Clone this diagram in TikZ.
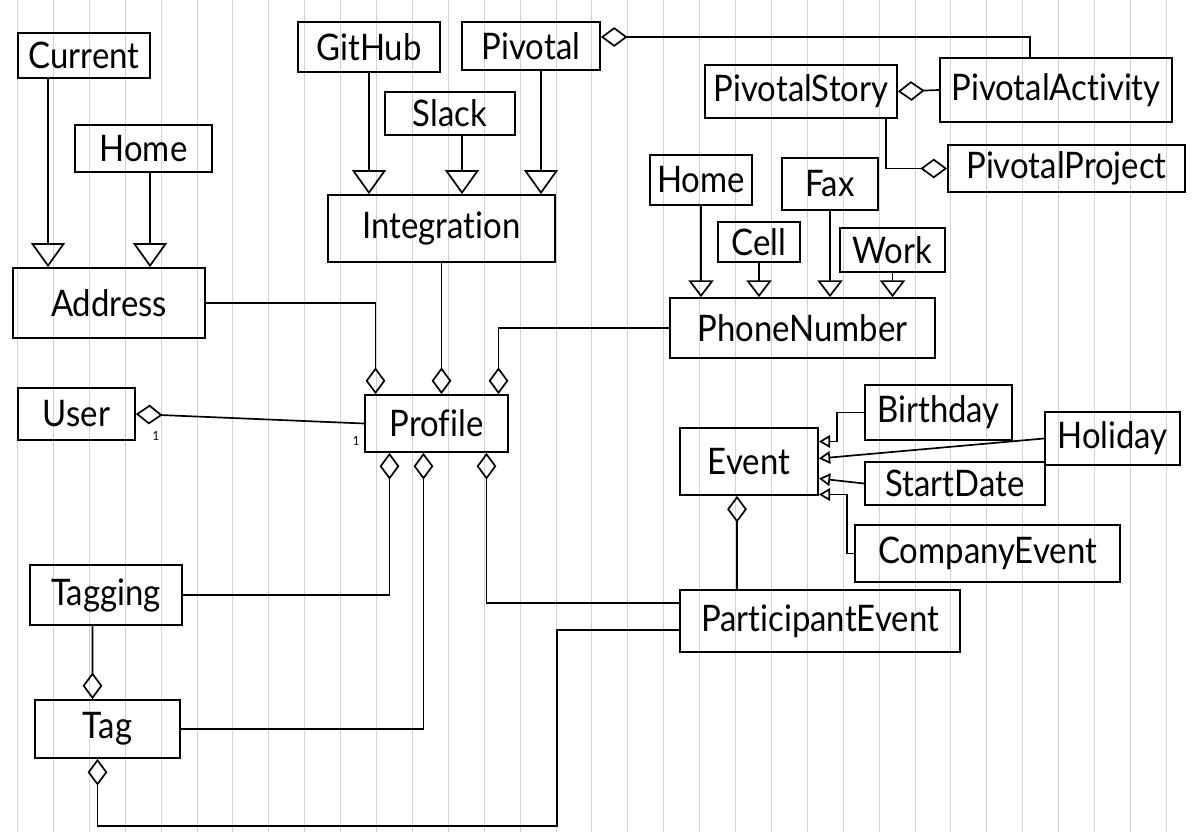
\documentclass[tikz,border=0pt]{standalone}
\usepackage{fontspec}
\newfontfamily\handfont[FakeStretch=0.9, Ligatures=NoCommon]{Lato}
\usetikzlibrary{arrows.meta,calc}
\tikzset{
  klasse/.style={rectangle, draw=black, line width=1.2pt, inner sep=0pt, align=center, font=\handfont\fontsize{26}{30}\selectfont},
  kante/.style={draw=black, line width=1.2pt},
  gen/.style={kante, -{Triangle[open, length=17pt, width=24pt]}},
  genm/.style={kante, -{Triangle[open, length=12pt, width=18pt]}},
  gens/.style={kante, -{Triangle[open, length=8pt, width=9pt]}},
  aggr/.style={kante, {Diamond[open, length=19pt, width=14pt]}-},
  mult/.style={font=\handfont\fontsize{9}{10}\selectfont, inner sep=0pt},
  papier/.style={draw=gray!35, line width=0.7pt}
}

\begin{document}
\begin{tikzpicture}[x=0.025cm, y=-0.025cm]
\fill[white] (0,0) rectangle (1200,832);
\useasboundingbox (0,0) rectangle (1200,832);
\foreach \i in {0,...,32} \draw[papier] ({17.5+35.9*\i},0) -- ({17.5+35.9*\i},832);

% address part
\node[klasse, minimum width=3.3cm, minimum height=1.125cm] (current) at (84,55.5) {Current};
\node[klasse, minimum width=3.425cm, minimum height=1.175cm] (homeA) at (143.5,148.5) {Home};
\node[klasse, minimum width=4.8cm, minimum height=1.75cm] (address) at (109,303) {Address};
\node[klasse, minimum width=2.925cm, minimum height=1.3cm] (user) at (76.5,414) {User};
\node[klasse, minimum width=3.575cm, minimum height=1.425cm] (profile) at (436.5,423.5) {Profile};
\node[klasse, minimum width=3.8cm, minimum height=1.5cm] (tagging) at (106,595) {Tagging};
\node[klasse, minimum width=3.625cm, minimum height=1.45cm] (tag) at (107.5,729) {Tag};

% integrations
\node[klasse, minimum width=3.55cm, minimum height=1.25cm] (github) at (369,47) {GitHub};
\node[klasse, minimum width=3.45cm, minimum height=1.2cm] (pivotal) at (531,46) {Pivotal};
\node[klasse, minimum width=3.25cm, minimum height=1.075cm] (slack) at (450,113.5) {Slack};
\node[klasse, minimum width=5.675cm, minimum height=1.675cm] (integration) at (441.5,228.5) {Integration};
\node[klasse, minimum width=4.8cm, minimum height=1.325cm] (story) at (801,91.5) {PivotalStory};
\node[klasse, minimum width=5.8cm, minimum height=1.6cm] (activity) at (1056,90) {PivotalActivity};
\node[klasse, minimum width=5.925cm, minimum height=1.175cm] (project) at (1066.5,168.5) {PivotalProject};

% phone numbers
\node[klasse, minimum width=2.55cm, minimum height=1.25cm] (homeP) at (701,180) {Home};
\node[klasse, minimum width=2.4cm, minimum height=1.3cm] (fax) at (830,184) {Fax};
\node[klasse, minimum width=2.05cm, minimum height=1.0cm] (cell) at (759,242) {Cell};
\node[klasse, minimum width=2.625cm, minimum height=1.1cm] (work) at (892.5,250) {Work};
\node[klasse, minimum width=6.625cm, minimum height=1.5cm] (phone) at (802.5,328) {PhoneNumber};

% events
\node[klasse, minimum width=3.45cm, minimum height=1.675cm] (event) at (749,461.5) {Event};
\node[klasse, minimum width=3.675cm, minimum height=1.375cm] (birthday) at (938.5,412.5) {Birthday};
\node[klasse, minimum width=3.375cm, minimum height=1.325cm] (holiday) at (1112.5,438.5) {Holiday};
\node[klasse, minimum width=4.5cm, minimum height=1.075cm] (startdate) at (955,483.5) {StartDate};
\node[klasse, minimum width=6.625cm, minimum height=1.425cm] (company) at (987.5,553.5) {CompanyEvent};
\node[klasse, minimum width=7.0cm, minimum height=1.55cm] (participant) at (820,621) {ParticipantEvent};

% generalisations
\draw[gen] ($(current.south)+(-36,0)$) -- ($(address.north)+(-61,0)$);
\draw[gen] ($(homeA.south)+(6.5,0)$) -- ($(address.north)+(41,0)$);
\draw[gen] (github.south) -- ($(integration.north)+(-72.5,0)$);
\draw[gen] ($(slack.south)+(12,0)$) -- ($(integration.north)+(20.5,0)$);
\draw[gen] ($(pivotal.south)+(10,0)$) -- ($(integration.north)+(99.5,0)$);
\draw[genm] (homeP.south) -- ($(phone.north)+(-101.5,0)$);
\draw[genm] (cell.south) -- ($(phone.north)+(-43.5,0)$);
\draw[genm] (fax.south) -- ($(phone.north)+(27.5,0)$);
\draw[genm] (work.south) -- ($(phone.north)+(90,0)$);
\draw[gens] (birthday.west) -- ++(-27,0) |- ($(event.east)+(0,-20)$);
\draw[gens] (holiday.west) -- ($(event.east)+(0,-3)$);
\draw[gens] (startdate.west) -- ($(event.east)+(0,17)$);
\draw[gens] (company.west) -- ++(-7,0) |- ($(event.east)+(0,33)$);

% aggregations
\draw[aggr] ($(pivotal.east)+(0,-9)$) -| ($(activity.north)+(-26,0)$);
\draw[aggr] (story.east) -- (activity.west);
\draw[aggr] (project.west) -| ($(story.south)+(85,0)$);
\draw[aggr] ($(profile.north)+(-61,0)$) |- (address.east);
\draw[aggr] (profile.north -| integration.south) -- (integration.south);
\draw[aggr] ($(profile.north)+(62,0)$) |- (phone.west);
\draw[aggr] (user.east) -- (profile.west);
\node[mult] at ($(user.east)+(20,22)$) {1};
\node[mult] at ($(profile.west)+(-8,17)$) {1};
\draw[aggr] ($(profile.south)+(-47,0)$) |- (tagging.east);
\draw[aggr] ($(profile.south)+(-13,0)$) |- (tag.east);
\draw[aggr] ($(profile.south)+(50,0)$) |- ($(participant.west)+(0,-18)$);
\draw[aggr] ($(tag.north)+(-15,0)$) -- ($(tagging.south)+(-13.5,0)$);
\draw[aggr] ($(tag.south)+(-10,0)$) -- ++(0,67) -| ($(participant.west)+(-122,9)$) -- ($(participant.west)+(0,9)$);
\draw[aggr] ($(event.south)+(-12,0)$) -- ($(participant.north)+(-83,0)$);

\end{tikzpicture}
\end{document}
